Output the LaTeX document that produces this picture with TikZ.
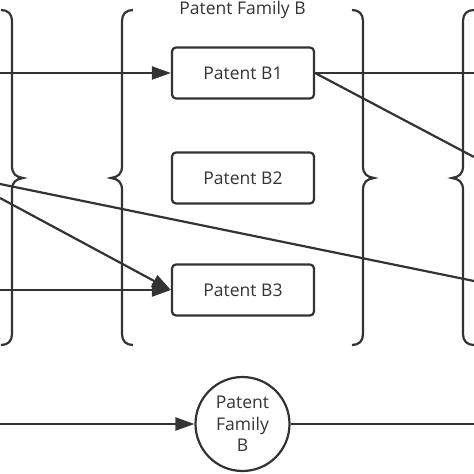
\documentclass[tikz,border=0pt]{standalone}
\usepackage{fontspec}
\setmainfont{Open Sans}
\usetikzlibrary{arrows.meta}
\definecolor{ink}{HTML}{333333}
\begin{document}
\begin{tikzpicture}[x=1pt,y=-1pt,
	line/.style={draw=ink,line width=2.2pt},
	arr/.style={line,-{Triangle[length=19pt,width=13pt]}},
	label/.style={text=ink,font=\fontsize{17.5}{21.5}\selectfont},
	patent/.style={line,label,rounded corners=4pt,minimum width=142pt,minimum height=51pt,inner sep=0pt},
	family/.style={line,label,circle,minimum size=94pt,inner sep=0pt,align=center},
	curly/.pic={
		\draw[line] (-11,-168) .. controls (-4,-168) and (0,-164) .. (0,-157) -- (0,-12)
			.. controls (0,-4) and (4,-1) .. (11,0) .. controls (4,1) and (0,4) .. (0,12)
			-- (0,156) .. controls (0,163) and (-4,167) .. (-11,167);
	}]
	\useasboundingbox (0,0) rectangle (474,474);
	\pic at (12,178) {curly};
	\pic[xscale=-1] at (122,178) {curly};
	\pic at (363,178) {curly};
	\pic[xscale=-1] at (463,178) {curly};
	\node[label,anchor=base] (title) at (242.5,14.5) {Patent Family B};
	\node[patent] (b1) at (243,73) {Patent B1};
	\node[patent] (b2) at (243,178) {Patent B2};
	\node[patent] (b3) at (243,290) {Patent B3};
	\node[family] (fam) at (242.5,424) {Patent\\Family\\B};
	\coordinate (inA) at (0,73);
	\coordinate (inB) at (0,184);
	\coordinate (inC) at (0,198);
	\coordinate (inD) at (0,290);
	\coordinate (inE) at (0,424);
	\coordinate (outA) at (474,73);
	\coordinate (outB) at (474,157);
	\coordinate (outC) at (474,281);
	\coordinate (outD) at (474,424);
	\draw[arr] (inA) -- (b1.west);
	\draw[line] (b1.east) -- (outA);
	\draw[line] (b1.east) -- (outB);
	\draw[line] (inB) -- (outC);
	\draw[arr] (inC) -- (b3.west);
	\draw[arr] (inD) -- (b3.west);
	\draw[arr] (inE) -- (fam.west);
	\draw[line] (fam.east) -- (outD);
\end{tikzpicture}
\end{document}
